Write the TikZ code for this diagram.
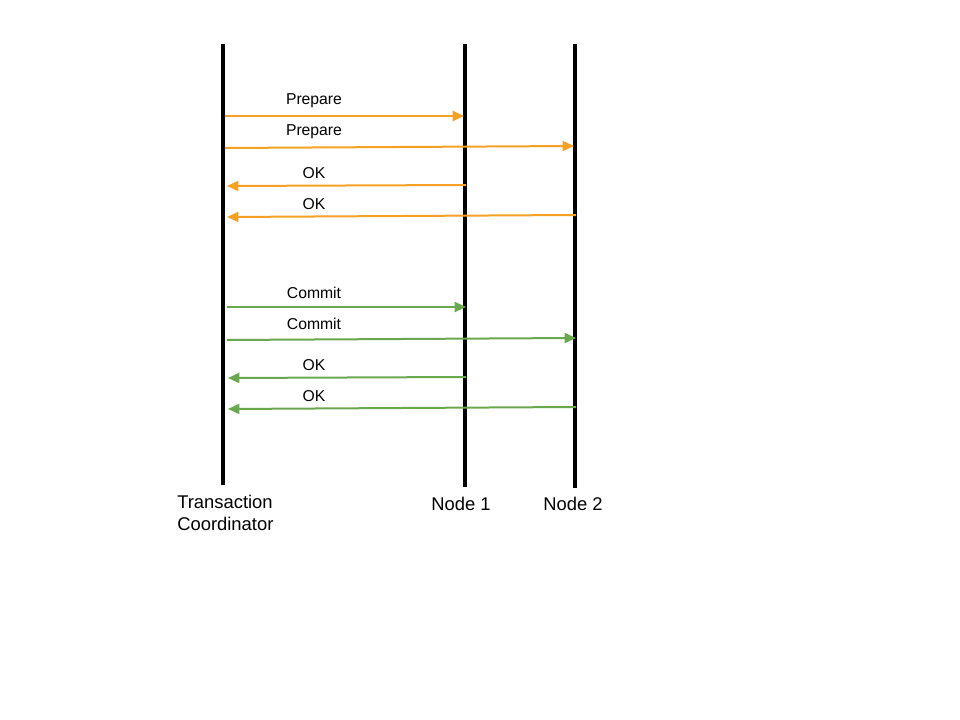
\documentclass[tikz,border=0pt]{standalone}
\usepackage{fontspec}
\setmainfont{Liberation Sans}
\usetikzlibrary{arrows.meta}
\definecolor{msgorange}{HTML}{F4A124}
\definecolor{msggreen}{HTML}{6AA84F}
\begin{document}
\begin{tikzpicture}[x=0.75pt,y=-0.75pt,
  lifeline/.style={line width=3.2pt,black},
  msg/.style={line width=1.5pt,-{Triangle[length=8.5pt,width=7.5pt]}},
  prep/.style={msg,msgorange},
  comm/.style={msg,msggreen},
  msglabel/.style={font=\fontsize{11.8}{14}\selectfont,inner sep=0pt},
  partlabel/.style={font=\fontsize{13.8}{16.5}\selectfont,inner sep=0pt}]
\useasboundingbox (0,0) rectangle (960,720);
% lifelines
\coordinate (tcT) at (223,44);  \coordinate (tcB) at (223,485);
\coordinate (n1T) at (465,44);  \coordinate (n1B) at (465,487);
\coordinate (n2T) at (575,44);  \coordinate (n2B) at (575,488);
\draw[lifeline] (tcT) -- (tcB);
\draw[lifeline] (n1T) -- (n1B);
\draw[lifeline] (n2T) -- (n2B);
% participant labels
\node[partlabel,anchor=north west,align=left] (tclab) at (177,495) {Transaction\\Coordinator};
\node[partlabel,anchor=north] (n1lab) at (461,497) {Node 1};
\node[partlabel,anchor=north] (n2lab) at (573,497) {Node 2};
% prepare phase
\coordinate (p1s) at (225,116); \coordinate (p1e) at (464,116);
\coordinate (p2s) at (225,148); \coordinate (p2e) at (574,146);
\coordinate (o1s) at (466,185); \coordinate (o1e) at (227,186);
\coordinate (o2s) at (576,215); \coordinate (o2e) at (227,217);
\draw[prep] (p1s) -- (p1e);
\draw[prep] (p2s) -- (p2e);
\draw[prep] (o1s) -- (o1e);
\draw[prep] (o2s) -- (o2e);
\node[msglabel] (lp1) at (314,101) {Prepare};
\node[msglabel] (lp2) at (314,132) {Prepare};
\node[msglabel] (lo1) at (314,173) {OK};
\node[msglabel] (lo2) at (314,204) {OK};
% commit phase
\coordinate (c1s) at (227,307); \coordinate (c1e) at (466,307);
\coordinate (c2s) at (227,340); \coordinate (c2e) at (576,338);
\coordinate (k1s) at (466,377); \coordinate (k1e) at (228,378);
\coordinate (k2s) at (576,407); \coordinate (k2e) at (228,409);
\draw[comm] (c1s) -- (c1e);
\draw[comm] (c2s) -- (c2e);
\draw[comm] (k1s) -- (k1e);
\draw[comm] (k2s) -- (k2e);
\node[msglabel] (lc1) at (314,293) {Commit};
\node[msglabel] (lc2) at (314,324) {Commit};
\node[msglabel] (lk1) at (314,365) {OK};
\node[msglabel] (lk2) at (314,396) {OK};
\end{tikzpicture}
\end{document}
